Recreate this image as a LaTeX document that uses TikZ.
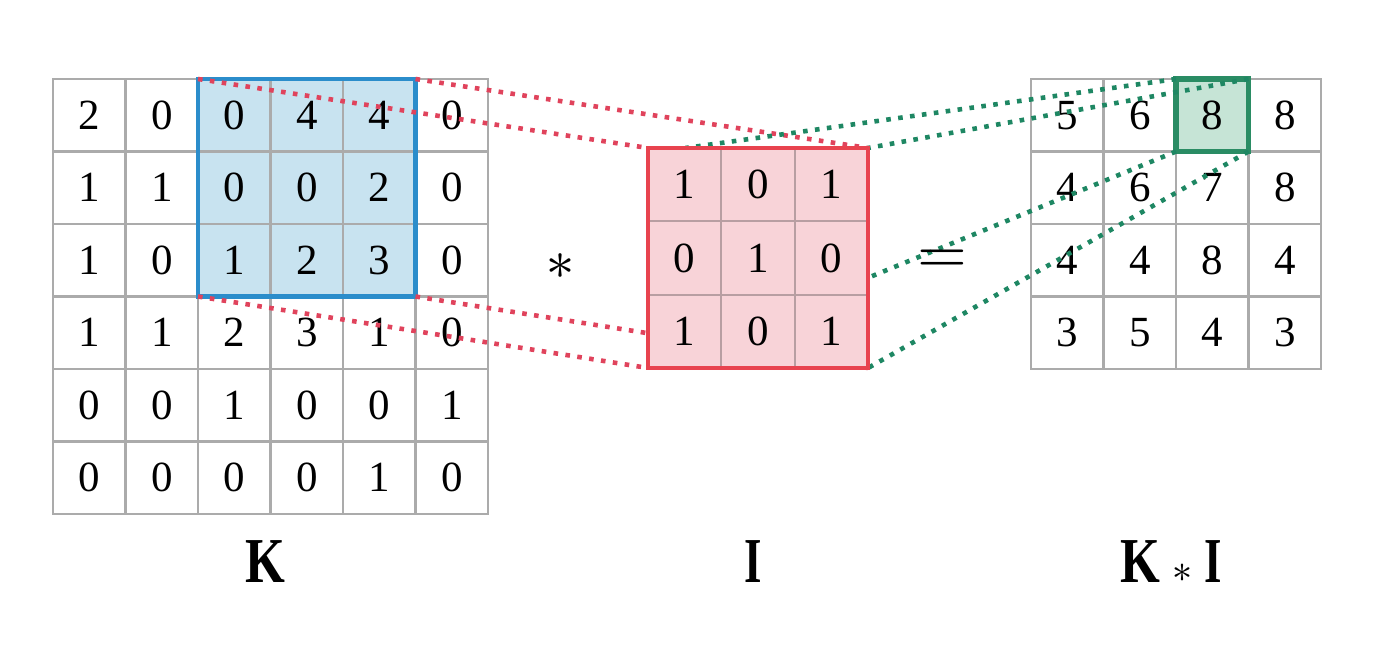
\documentclass[tikz,border=0pt]{standalone}
\usepackage{fontspec}
\usepackage{unicode-math}
\usepackage{graphicx}
\usetikzlibrary{calc}
\newfontfamily\digitfont{Liberation Serif}
\pgfdeclarelayer{back}
\pgfdeclarelayer{mid}
\pgfsetlayers{back,mid,main}
\definecolor{gridgray}{HTML}{ABABAB}
\definecolor{bluefill}{HTML}{C8E3F0}
\definecolor{blueline}{HTML}{2B8DCB}
\definecolor{pinkfill}{HTML}{F8D3D8}
\definecolor{redline}{HTML}{E8434F}
\definecolor{kgray}{HTML}{B89EA2}
\definecolor{greenfill}{HTML}{C6E4D6}
\definecolor{greenline}{HTML}{2A8C64}
\definecolor{reddot}{HTML}{E0435C}
\definecolor{greendot}{HTML}{1E8763}
\begin{document}
\begin{tikzpicture}[x=0.5pt,y=-0.5pt,
  num/.style={font=\digitfont\fontsize{21.5}{24}\selectfont},
  cell/.style={num,draw=gridgray,line width=1.2pt,minimum size=36.25pt,inner sep=0pt},
  kcell/.style={num,draw=kgray,line width=1.1pt,fill=pinkfill,minimum size=36.67pt,inner sep=0pt},
  hl/.style={inner sep=0pt,outer sep=0pt},
  dotted line/.style={line width=2.3pt,dash pattern=on 2.3pt off 3.7pt},
  lbl/.style={font=\digitfont\fontsize{32}{36}\selectfont\bfseries,inner sep=0pt,anchor=base},
]
\useasboundingbox (0,0) rectangle (1400,657);

\begin{pgfonlayer}{back}
  % highlight fills
  \node[hl,fill=bluefill,minimum width=108.75pt,minimum height=108.75pt] (blue) at (306.75,187.75) {};
  \node[hl,fill=greenfill,minimum width=36.25pt,minimum height=36.25pt] (grn) at (1212.25,115.25) {};
  % K grid
  \foreach \row [count=\r from 0] in {{2,0,0,4,4,0},{1,1,0,0,2,0},{1,0,1,2,3,0},{1,1,2,3,1,0},{0,0,1,0,0,1},{0,0,0,0,1,0}}{
    \foreach \v [count=\c from 0] in \row {
      \node[cell] (k-\r-\c) at ({53+72.5*(\c+0.5)},{79+72.5*(\r+0.5)}) {\v};
    }
  }
  % result grid
  \foreach \row [count=\r from 0] in {{5,6,8,8},{4,6,7,8},{4,4,8,4},{3,5,4,3}}{
    \foreach \v [count=\c from 0] in \row {
      \node[cell] (o-\r-\c) at ({1031+72.5*(\c+0.5)},{79+72.5*(\r+0.5)}) {\v};
    }
  }
  % highlight borders
  \draw[blueline,line width=2.4pt] (blue.north west) rectangle (blue.south east);
  \draw[greenline,line width=2.6pt] (grn.north west) rectangle (grn.south east);
\end{pgfonlayer}

% kernel
\foreach \row [count=\r from 0] in {{1,0,1},{0,1,0},{1,0,1}}{
  \foreach \v [count=\c from 0] in \row {
    \node[kcell] (i-\r-\c) at ({648+73.33*(\c+0.5)},{148+73.33*(\r+0.5)}) {\v};
  }
}
\node[hl,draw=redline,line width=2.2pt,minimum width=110pt,minimum height=110pt,outer sep=0pt] (kern) at (758,258) {};

% connectors
\begin{pgfonlayer}{mid}
  \draw[reddot,dotted line] (blue.north west) -- (kern.north west);
  \draw[reddot,dotted line] (blue.north east) -- (kern.north east);
  \draw[reddot,dotted line] (blue.south west) -- (kern.south west);
  \draw[reddot,dotted line] (blue.south east) -- (kern.south east);
  \draw[greendot,dotted line] (grn.north west) -- ($(kern.north west)!0.17!(kern.north east)$);
  \draw[greendot,dotted line] (grn.north east) -- (kern.north east);
  \draw[greendot,dotted line] (grn.south west) -- (kern.south west);
  \draw[greendot,dotted line] (grn.south east) -- (kern.south east);
\end{pgfonlayer}

% operators
\node[inner sep=0pt,font=\fontsize{28}{32}\selectfont] (star) at (560,267) {$\ast$};
\node[inner sep=0pt,font=\fontsize{32}{36}\selectfont] (eq) at (942,262) {$=$};

% labels
\node[lbl] (lk) at (265,582) {\scalebox{0.8}[1]{K}};
\node[lbl] (li) at (753,582) {\scalebox{0.7}[1]{I}};
\node[lbl] (lki) at (1171,582) {\scalebox{0.8}[1]{K}\hspace{6pt}{\fontsize{20}{24}\selectfont$\ast$}\hspace{6pt}\scalebox{0.7}[1]{I}};
\end{tikzpicture}
\end{document}
